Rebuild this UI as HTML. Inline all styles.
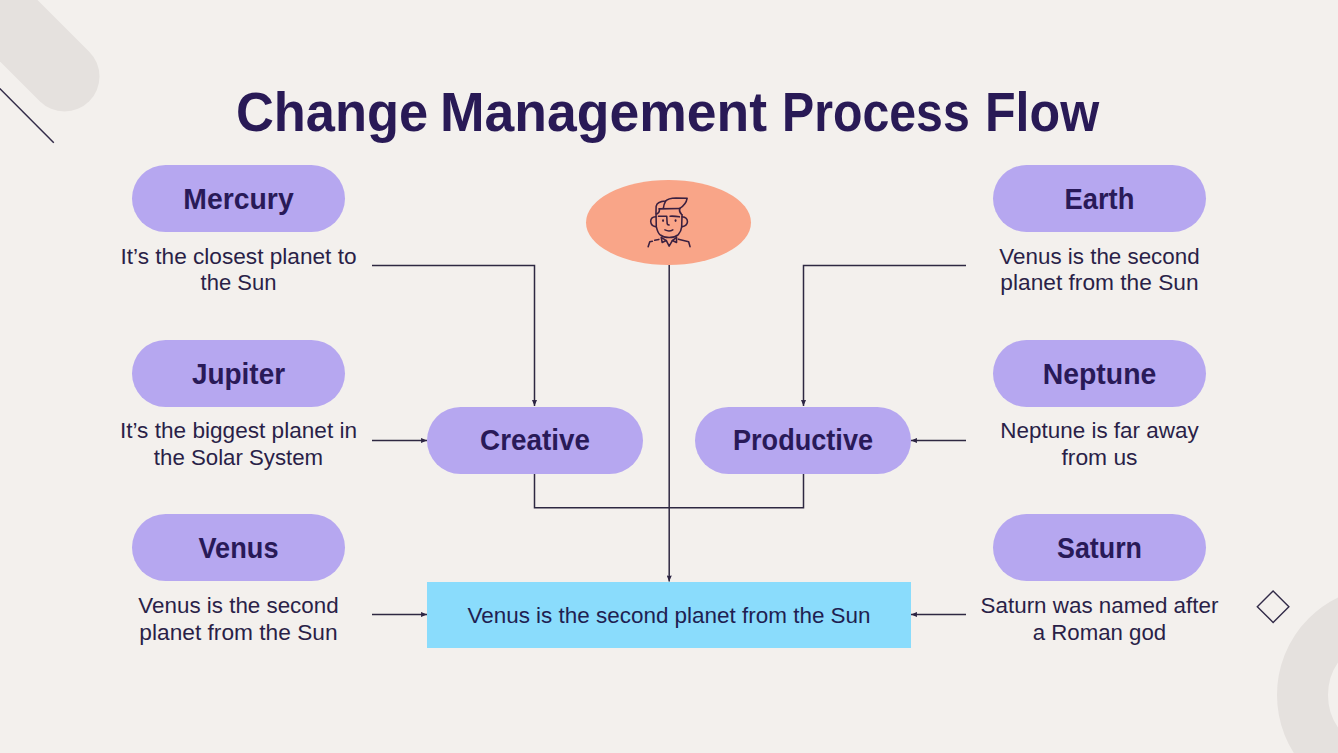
<!DOCTYPE html>
<html><head><meta charset="utf-8">
<style>
html,body{margin:0;padding:0;}
body{width:1338px;height:753px;overflow:hidden;background:#F3F0ED;position:relative;font-family:"Liberation Sans",sans-serif;color:#2A1A4C;}
svg.bg{position:absolute;left:0;top:0;}
.t{position:absolute;white-space:nowrap;line-height:1;}
.title{font-weight:bold;font-size:55px;top:85px;color:#291A56;transform-origin:0 0;}
.lab{color:#291A58;font-weight:bold;font-size:29px;text-align:center;transform:scaleX(0.935);}
.desc{color:#2A1F48;font-size:21.4px;text-align:center;line-height:26.7px;transform:scaleX(1.045);}
</style></head><body>
<svg class="bg" width="1338" height="753" viewBox="0 0 1338 753">
  <defs>
    <marker id="ar" viewBox="0 0 10 10" refX="10" refY="5" markerWidth="6.2" markerHeight="5.2" markerUnits="userSpaceOnUse" orient="auto" preserveAspectRatio="none">
      <path d="M0 0 L10 5 L0 10 L0.8 5 z" fill="#2C2442"/>
    </marker>
  </defs>
  <!-- decorations -->
  <line x1="64.5" y1="76.5" x2="-120" y2="-108" stroke="#E5E1DE" stroke-width="70" stroke-linecap="round"/>
  <line x1="-20" y1="68.6" x2="53.8" y2="142.8" stroke="#322B48" stroke-width="1.5"/>
  <circle cx="1385.5" cy="695" r="83" fill="none" stroke="#E5E1DE" stroke-width="51"/>
  <polygon points="1273.1,591 1288.9,606.7 1273.1,622.4 1257.3,606.7" fill="none" stroke="#322B48" stroke-width="1.4"/>
  <!-- pills -->
  <g fill="#B6A7F0">
    <rect x="132" y="165" width="213" height="67" rx="33.5"/>
    <rect x="132" y="340" width="213" height="67" rx="33.5"/>
    <rect x="132" y="514" width="213" height="67" rx="33.5"/>
    <rect x="993" y="165" width="213" height="67" rx="33.5"/>
    <rect x="993" y="340" width="213" height="67" rx="33.5"/>
    <rect x="993" y="514" width="213" height="67" rx="33.5"/>
    <rect x="427" y="407" width="216" height="67" rx="33.5"/>
    <rect x="695" y="407" width="216" height="67" rx="33.5"/>
  </g>
  <ellipse cx="668.5" cy="222.5" rx="82.5" ry="42.5" fill="#F9A588"/>
  <rect x="427" y="582" width="484" height="66" fill="#8ADCFC"/>
  <!-- connectors -->
  <g fill="none" stroke="#2E2842" stroke-width="1.5">
    <polyline points="372,265.5 534.5,265.5 534.5,406" marker-end="url(#ar)"/>
    <polyline points="966,265.5 803.5,265.5 803.5,406" marker-end="url(#ar)"/>
    <line x1="372" y1="440.5" x2="427" y2="440.5" marker-end="url(#ar)"/>
    <line x1="966" y1="440.5" x2="911" y2="440.5" marker-end="url(#ar)"/>
    <line x1="372" y1="614.5" x2="427" y2="614.5" marker-end="url(#ar)"/>
    <line x1="966" y1="614.5" x2="911" y2="614.5" marker-end="url(#ar)"/>
    <polyline points="534.5,474 534.5,507.7 803.5,507.7 803.5,474"/>
    <line x1="669.2" y1="265" x2="669.2" y2="581.6" marker-end="url(#ar)"/>
  </g>
  <!-- person icon -->
  <svg x="640" y="190" width="60" height="62" viewBox="0 0 729 753">
    <g fill="none" stroke="#3B2040" stroke-width="19" stroke-linecap="round" stroke-linejoin="round">
      <path d="M194 292 L196 198 Q205 140 311 134 Q340 100 438 96 L573 100 Q560 180 483 223"/>
      <path d="M311 134 Q290 170 284 220"/>
      <path d="M234 229 L483 224"/>
      <path d="M234 229 Q244 268 203 292"/>
      <path d="M483 224 Q470 262 506 297"/>
      <path d="M195 300 L198 445 Q215 520 241 541 Q290 578 354 578 Q420 578 466 541 Q500 500 506 450 L511 300"/>
      <path d="M190 326 Q130 330 130 383 Q135 440 190 445"/>
      <path d="M512 326 Q576 330 577 388 Q570 440 512 445"/>
      <path d="M224 318 L325 318 Q328 380 331 411 Q338 425 354 425"/>
      <path d="M365 318 Q420 315 478 326"/>
      <path d="M303 484 Q353 510 399 484"/>
      <path d="M258 575 L269 637 L320 614 Z"/>
      <path d="M444 575 L444 637 L393 614 Z"/>
      <path d="M320 614 L354 682 L393 614"/>
      <path d="M99 688 L119 628 L150 623"/>
      <path d="M179 611 L229 600"/>
      <path d="M466 597 L591 628 L608 688"/>
    </g>
    <ellipse cx="280" cy="371" rx="12" ry="17" fill="#3B2040"/>
    <ellipse cx="432" cy="371" rx="12" ry="17" fill="#3B2040"/>
  </svg>
</svg>

<div class="t title" style="left:236px;transform:scaleX(0.953)">Change</div>
<div class="t title" style="left:440px;transform:scaleX(0.973)">Management</div>
<div class="t title" style="left:782px;transform:scaleX(0.877)">Process</div>
<div class="t title" style="left:985px;transform:scaleX(0.911)">Flow</div>

<div class="t lab" style="left:132px;width:213px;top:184.8px;transform:scaleX(0.978)">Mercury</div>
<div class="t lab" style="left:132px;width:213px;top:359.7px;transform:scaleX(0.964)">Jupiter</div>
<div class="t lab" style="left:132px;width:213px;top:534px;transform:scaleX(0.936)">Venus</div>
<div class="t lab" style="left:993px;width:213px;top:184.8px;transform:scaleX(0.942)">Earth</div>
<div class="t lab" style="left:993px;width:213px;top:359.7px;transform:scaleX(0.979)">Neptune</div>
<div class="t lab" style="left:993px;width:213px;top:534px;transform:scaleX(0.924)">Saturn</div>
<div class="t lab" style="left:427px;width:216px;top:426.3px;transform:scaleX(0.96)">Creative</div>
<div class="t lab" style="left:695px;width:216px;top:426.3px;transform:scaleX(0.935)">Productive</div>

<div class="t desc" style="left:88px;width:301px;top:243.5px"><span style="display:block;transform:scaleX(1.0122)">It’s the closest planet to</span><span style="display:block;transform:scaleX(0.9851)">the Sun</span></div>
<div class="t desc" style="left:88px;width:301px;top:418.2px"><span style="display:block;transform:scaleX(1.0113)">It’s the biggest planet in</span><span style="display:block;transform:scaleX(0.9946)">the Solar System</span></div>
<div class="t desc" style="left:88px;width:301px;top:592.8px"><span style="display:block;transform:scaleX(1.001)">Venus is the second</span><span style="display:block;transform:scaleX(1.0162)">planet from the Sun</span></div>
<div class="t desc" style="left:949px;width:301px;top:243.5px"><span style="display:block;transform:scaleX(1.001)">Venus is the second</span><span style="display:block;transform:scaleX(1.0162)">planet from the Sun</span></div>
<div class="t desc" style="left:949px;width:301px;top:418.2px"><span style="display:block;transform:scaleX(1.0041)">Neptune is far away</span><span style="display:block;transform:scaleX(1.0205)">from us</span></div>
<div class="t desc" style="left:949px;width:301px;top:592.8px"><span style="display:block;transform:scaleX(1.0021)">Saturn was named after</span><span style="display:block;transform:scaleX(0.9939)">a Roman god</span></div>

<div class="t desc" style="left:427px;width:484px;top:602.5px;color:#1F1F52"><span style="display:block;transform:scaleX(1.0043)">Venus is the second planet from the Sun</span></div>
</body></html>
